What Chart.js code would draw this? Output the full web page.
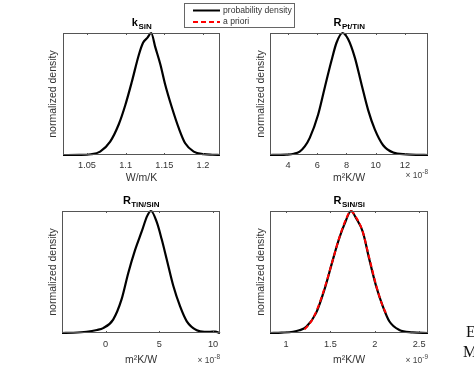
<!DOCTYPE html>
<html>
<head>
<meta charset="utf-8">
<script src="https://cdn.jsdelivr.net/npm/chart.js@4.4.1/dist/chart.umd.min.js"></script>
<style>
  body { margin: 0; background: #fff; }
  #wrap { position: relative; width: 474px; height: 377px; overflow: hidden; background: #fff; }
  #wrap canvas { position: absolute; left: 0; top: 0; }
  .side { position: absolute; font-family: "Liberation Serif", serif; font-size: 16px; color: #111; }
</style>
</head>
<body>
<div id="wrap">
  <canvas id="c1" width="474" height="377"></canvas>
  <canvas id="c2" width="474" height="377"></canvas>
  <canvas id="c3" width="474" height="377"></canvas>
  <canvas id="c4" width="474" height="377"></canvas>
  <span class="side" style="left:466px;top:323px">E</span>
  <span class="side" style="left:463px;top:343px">M</span>
</div>
<script>
// k_SiN  (W/m/K)
const kSiN_x = [1.019, 1.04, 1.055, 1.067, 1.080, 1.091, 1.0996, 1.108, 1.117, 1.1225, 1.128, 1.133, 1.1385, 1.145, 1.151, 1.160, 1.1687, 1.177, 1.188, 1.201, 1.212, 1.222];
const kSiN_y = [0, 0.001, 0.006, 0.028, 0.11, 0.25, 0.41, 0.60, 0.82, 0.92, 0.96, 1.0, 0.88, 0.74, 0.58, 0.385, 0.22, 0.096, 0.028, 0.007, 0.002, 0];
const kSiN_ticks = [1.05, 1.1, 1.15, 1.2];

// R_Pt/TiN  (x 1e-8 m2K/W)
const RPt_x = [2.77, 3.3, 3.89, 4.4, 4.80, 5.15, 5.49, 6.06, 6.51, 6.97, 7.32, 7.73, 8.11, 8.57, 9.03, 9.48, 9.94, 10.51, 11.2, 12.1, 12.8, 13.58];
const RPt_y = [0, 0.001, 0.003, 0.01, 0.028, 0.07, 0.14, 0.33, 0.55, 0.77, 0.92, 1.0, 0.95, 0.80, 0.58, 0.37, 0.21, 0.08, 0.02, 0.005, 0.001, 0];
const RPt_ticks = [4, 6, 8, 10, 12];

// R_TiN/SiN  (x 1e-8 m2K/W)
const RTiN_x = [-4.05, -3, -1.77, -0.8, -0.22, 0.71, 1.49, 2.11, 2.73, 3.36, 3.88, 4.23, 4.76, 5.22, 5.69, 6.31, 6.93, 7.56, 8.49, 9.2, 9.73, 10.2, 10.65];
const RTiN_y = [0, 0.002, 0.01, 0.025, 0.04, 0.11, 0.275, 0.49, 0.675, 0.83, 0.96, 1.0, 0.91, 0.77, 0.605, 0.385, 0.22, 0.096, 0.022, 0.01, 0.01, 0.012, 0];
const RTiN_ticks = [0, 5, 10];

// R_SiN/Si  (x 1e-9 m2K/W)
const RSiN_x = [0.82, 0.95, 1.08, 1.15, 1.228, 1.34, 1.434, 1.509, 1.584, 1.658, 1.734, 1.79, 1.865, 1.94, 2.015, 2.09, 2.164, 2.276, 2.427, 2.6];
const RSiN_y = [0, 0.003, 0.01, 0.022, 0.05, 0.165, 0.357, 0.55, 0.74, 0.89, 1.0, 0.94, 0.83, 0.60, 0.385, 0.22, 0.096, 0.025, 0.005, 0];
const RSiN_ticks = [1, 1.5, 2, 2.5];

// a priori for R_SiN/Si
const prior_x = [1.21, 1.28, 1.36, 1.44, 1.52, 1.60, 1.68, 1.73, 1.78, 1.86, 1.94, 2.02, 2.08, 2.14];
const prior_y = [0.03, 0.09, 0.21, 0.38, 0.58, 0.78, 0.94, 1.0, 0.96, 0.84, 0.61, 0.38, 0.24, 0.14];

const FONT = '"Liberation Sans", Arial, sans-serif';
Chart.defaults.font.family = FONT;
Chart.defaults.color = '#333';

const toPts = (xs, ys) => xs.map((x, i) => ({ x: x, y: ys[i] }));

// axes box, inward ticks, title with subscript, x10^n multiplier
const panelDeco = {
  id: 'panelDeco',
  afterDraw(chart, args, opts) {
    const { ctx, chartArea: a } = chart;
    const x = chart.scales.x;
    ctx.save();
    ctx.strokeStyle = '#555';
    ctx.lineWidth = 1;
    ctx.strokeRect(a.left + 0.5, a.top + 0.5, a.width - 1, a.height - 1);
    x.ticks.forEach(t => {
      const px = Math.round(x.getPixelForValue(t.value)) + 0.5;
      ctx.beginPath();
      ctx.moveTo(px, a.bottom); ctx.lineTo(px, a.bottom - 2);
      ctx.moveTo(px, a.top); ctx.lineTo(px, a.top + 2);
      ctx.stroke();
    });

    ctx.fillStyle = '#000';
    ctx.textBaseline = 'alphabetic';
    ctx.textAlign = 'left';
    ctx.font = 'bold 11px ' + FONT;
    const w1 = ctx.measureText(opts.main).width;
    ctx.font = 'bold 8px ' + FONT;
    const w2 = ctx.measureText(opts.sub).width;
    const sx = (a.left + a.right) / 2 - (w1 + w2) / 2;
    const by = a.top - 7;
    ctx.font = 'bold 11px ' + FONT;
    ctx.fillText(opts.main, sx, by);
    ctx.font = 'bold 8px ' + FONT;
    ctx.fillText(opts.sub, sx + w1 + 0.5, by + 3);

    if (opts.exp) {
      ctx.fillStyle = '#444';
      ctx.font = '6.5px ' + FONT;
      const we = ctx.measureText(opts.exp).width;
      ctx.font = '8.5px ' + FONT;
      const wb = ctx.measureText('\u00d7 10').width;
      const ex = a.right - we;
      ctx.fillText('\u00d7 10', ex - wb, opts.multY + 3);
      ctx.font = '6.5px ' + FONT;
      ctx.fillText(opts.exp, ex, opts.multY - 1.5);
    }
    ctx.restore();
  }
};

// legend box across the top
const legendBox = {
  id: 'legendBox',
  afterDraw(chart) {
    const ctx = chart.ctx;
    ctx.save();
    ctx.fillStyle = '#fff';
    ctx.fillRect(184, 3, 110, 24);
    ctx.strokeStyle = '#666';
    ctx.lineWidth = 1;
    ctx.strokeRect(184.5, 3.5, 110, 24);
    chart.data.datasets.forEach((d, i) => {
      const y = 10.5 + i * 11.5;
      ctx.strokeStyle = d.borderColor;
      ctx.lineWidth = 2;
      ctx.setLineDash(d.borderDash || []);
      ctx.beginPath(); ctx.moveTo(193, y); ctx.lineTo(220, y); ctx.stroke();
      ctx.setLineDash([]);
      ctx.fillStyle = '#333';
      ctx.font = '8.6px ' + FONT;
      ctx.textBaseline = 'middle';
      ctx.fillText(d.label, 223, y);
    });
    ctx.restore();
  }
};

function panel(id, xs, ys, ticks, lay, deco, extra, plugs) {
  const datasets = [{
    label: 'probability density',
    data: toPts(xs, ys),
    borderColor: '#000',
    borderWidth: 2.2,
    pointRadius: 0,
    cubicInterpolationMode: 'monotone',
    clip: false,
    order: 1
  }];
  if (extra) datasets.push(extra);
  return new Chart(document.getElementById(id), {
    type: 'line',
    data: { datasets: datasets },
    options: {
      responsive: false,
      animation: false,
      events: [],
      layout: { padding: { left: lay.L - 22, right: 474 - lay.R, top: lay.T, bottom: 377 - lay.B - 40 } },
      scales: {
        x: {
          type: 'linear',
          min: xs[0],
          max: xs[xs.length - 1],
          afterBuildTicks: s => { s.ticks = ticks.map(v => ({ value: v })); },
          afterFit: s => { s.height = 40; },
          grid: { display: false, drawTicks: false },
          border: { display: false },
          ticks: { padding: lay.tp, font: { size: 9.2 }, color: '#333', maxRotation: 0, autoSkip: false, callback: v => String(v) },
          title: { display: true, text: deco.xt, font: { size: 10.5 }, color: '#333', padding: { top: 0, bottom: lay.B + 40 - lay.xtY - 6.3 } }
        },
        y: {
          min: 0,
          max: 1,
          afterFit: s => { s.width = 22; },
          grid: { display: false, drawTicks: false },
          border: { display: false },
          ticks: { display: false },
          title: { display: true, text: 'normalized density', font: { size: 10.5 }, color: '#333', padding: { top: lay.ytX - (lay.L - 22) - 6.3, bottom: 0 } }
        }
      },
      plugins: { legend: { display: false }, tooltip: { enabled: false }, panelDeco: deco }
    },
    plugins: [panelDeco].concat(plugs || [])
  });
}

panel('c1', kSiN_x, kSiN_y, kSiN_ticks,
  { L: 63, R: 220, T: 33, B: 155, tp: 4.6, xtY: 178, ytX: 53 },
  { main: 'k', sub: 'SiN', xt: 'W/m/K' });

panel('c2', RPt_x, RPt_y, RPt_ticks,
  { L: 270, R: 428, T: 33, B: 155, tp: 4.6, xtY: 178, ytX: 261.5 },
  { main: 'R', sub: 'Pt/TiN', xt: 'm\u00b2K/W', exp: '-8', multY: 175 });

panel('c3', RTiN_x, RTiN_y, RTiN_ticks,
  { L: 62, R: 220, T: 211, B: 333, tp: 5.6, xtY: 360, ytX: 53 },
  { main: 'R', sub: 'TiN/SiN', xt: 'm\u00b2K/W', exp: '-8', multY: 360 });

panel('c4', RSiN_x, RSiN_y, RSiN_ticks,
  { L: 270, R: 428, T: 211, B: 333, tp: 5.6, xtY: 360, ytX: 261.5 },
  { main: 'R', sub: 'SiN/Si', xt: 'm\u00b2K/W', exp: '-9', multY: 360 },
  {
    label: 'a priori',
    data: toPts(prior_x, prior_y),
    borderColor: '#ff0000',
    borderWidth: 2,
    borderDash: [5, 3],
    pointRadius: 0,
    cubicInterpolationMode: 'monotone',
    clip: false,
    order: 0
  },
  [legendBox]);
</script>
</body>
</html>
